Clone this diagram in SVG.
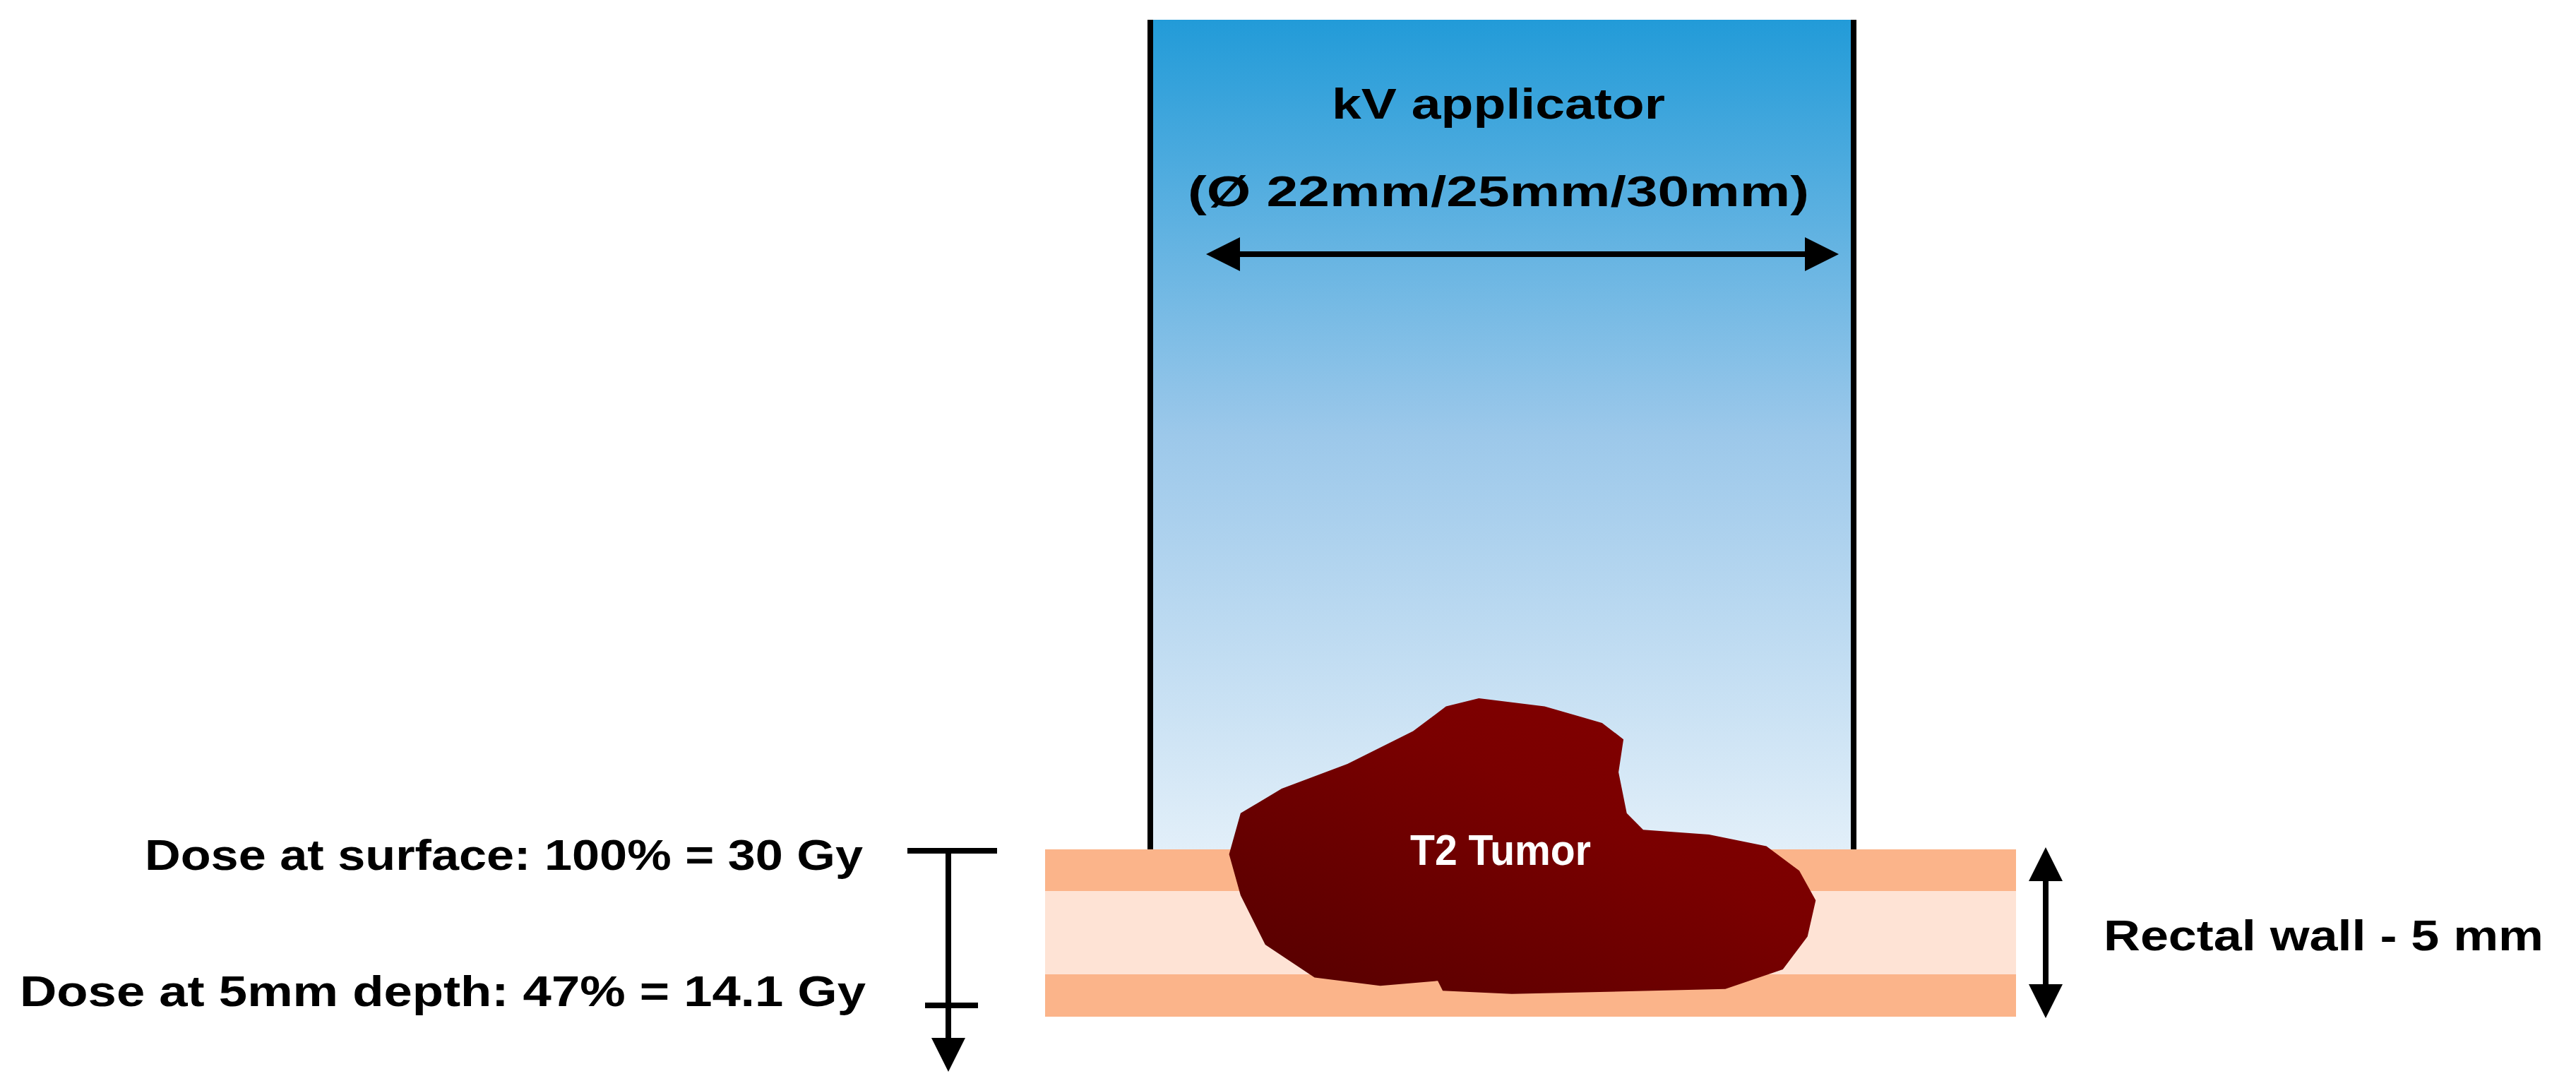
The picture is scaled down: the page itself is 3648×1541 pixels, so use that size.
<svg xmlns="http://www.w3.org/2000/svg" width="3648" height="1541" viewBox="0 0 3648 1541">
<style>
.t{font-family:"Liberation Sans",Arial,sans-serif;font-weight:bold;font-size:62px;fill:#000}
.w{fill:#fff}
.ln{stroke:#000;stroke-width:8;fill:none}
</style>
<defs>
<linearGradient id="app" x1="0" y1="0" x2="0" y2="1"><stop offset="0" stop-color="#229BD8"/><stop offset="0.5" stop-color="#9CC8EA"/><stop offset="1" stop-color="#E2EFF9"/></linearGradient>
<linearGradient id="tum" x1="0" y1="1" x2="1" y2="0"><stop offset="0" stop-color="#540000"/><stop offset="0.6" stop-color="#7A0000"/><stop offset="1" stop-color="#860000"/></linearGradient>
<marker id="ah" markerWidth="6" markerHeight="6" refX="5" refY="3" orient="auto-start-reverse" markerUnits="strokeWidth"><path d="M0,0 L6,3 L0,6 Z" fill="#000"/></marker>
</defs>
<rect width="3648" height="1541" fill="#fff"/>
<g id="applicator">
<rect x="1629" y="28" width="996" height="1177" fill="url(#app)"/>
<line class="ln" x1="1629" y1="28" x2="1629" y2="1205"/>
<line class="ln" x1="2625" y1="28" x2="2625" y2="1205"/>
<text class="t" x="2122" y="168" text-anchor="middle" textLength="472" lengthAdjust="spacingAndGlyphs">kV applicator</text>
<text class="t" x="2122" y="292" text-anchor="middle" textLength="880" lengthAdjust="spacingAndGlyphs">(Ø 22mm/25mm/30mm)</text>
</g>
<g id="rectal-wall">
<rect x="1480" y="1203" width="1375" height="59" fill="#FBB48A"/>
<rect x="1480" y="1262" width="1375" height="118" fill="#FEE3D5"/>
<rect x="1480" y="1380" width="1375" height="60" fill="#FBB48A"/>
</g>
<g id="tumor">
<path transform="scale(2.327)" fill="url(#tum)" d="M748,520 L755,545 L770,575 L800,595 L840,600 L875,597 L878,603 L920,605 L1050,602 L1085,590 L1100,570 L1105,548 L1095,530 L1075,515 L1040,508 L1000,505 L990,495 L985,470 L988,450 L975,440 L940,430 L900,425 L880,430 L860,445 L820,465 L780,480 L755,495 Z"/>
<text class="t w" x="2125" y="1225" text-anchor="middle" textLength="256" lengthAdjust="spacingAndGlyphs">T2 Tumor</text>
</g>
<g id="labels">
<text class="t" x="1222" y="1232" text-anchor="end" textLength="1017" lengthAdjust="spacingAndGlyphs">Dose at surface: 100% = 30 Gy</text>
<text class="t" x="1226" y="1425" text-anchor="end" textLength="1198" lengthAdjust="spacingAndGlyphs">Dose at 5mm depth: 47% = 14.1 Gy</text>
<text class="t" x="2979" y="1346" textLength="623" lengthAdjust="spacingAndGlyphs">Rectal wall  - 5 mm</text>
</g>
<g id="connectors">
<line class="ln" x1="1716" y1="360" x2="2596" y2="360" stroke-width="10" marker-start="url(#ah)" marker-end="url(#ah)"/>
<line class="ln" x1="1285" y1="1205" x2="1412" y2="1205" stroke-width="10"/>
<line class="ln" x1="1310" y1="1424" x2="1385" y2="1424" stroke-width="10"/>
<line class="ln" x1="1343" y1="1205" x2="1343" y2="1510" stroke-width="5" marker-end="url(#ah)"/>
<line class="ln" x1="2897" y1="1208" x2="2897" y2="1434" stroke-width="5" marker-start="url(#ah)" marker-end="url(#ah)"/>
</g>
</svg>
